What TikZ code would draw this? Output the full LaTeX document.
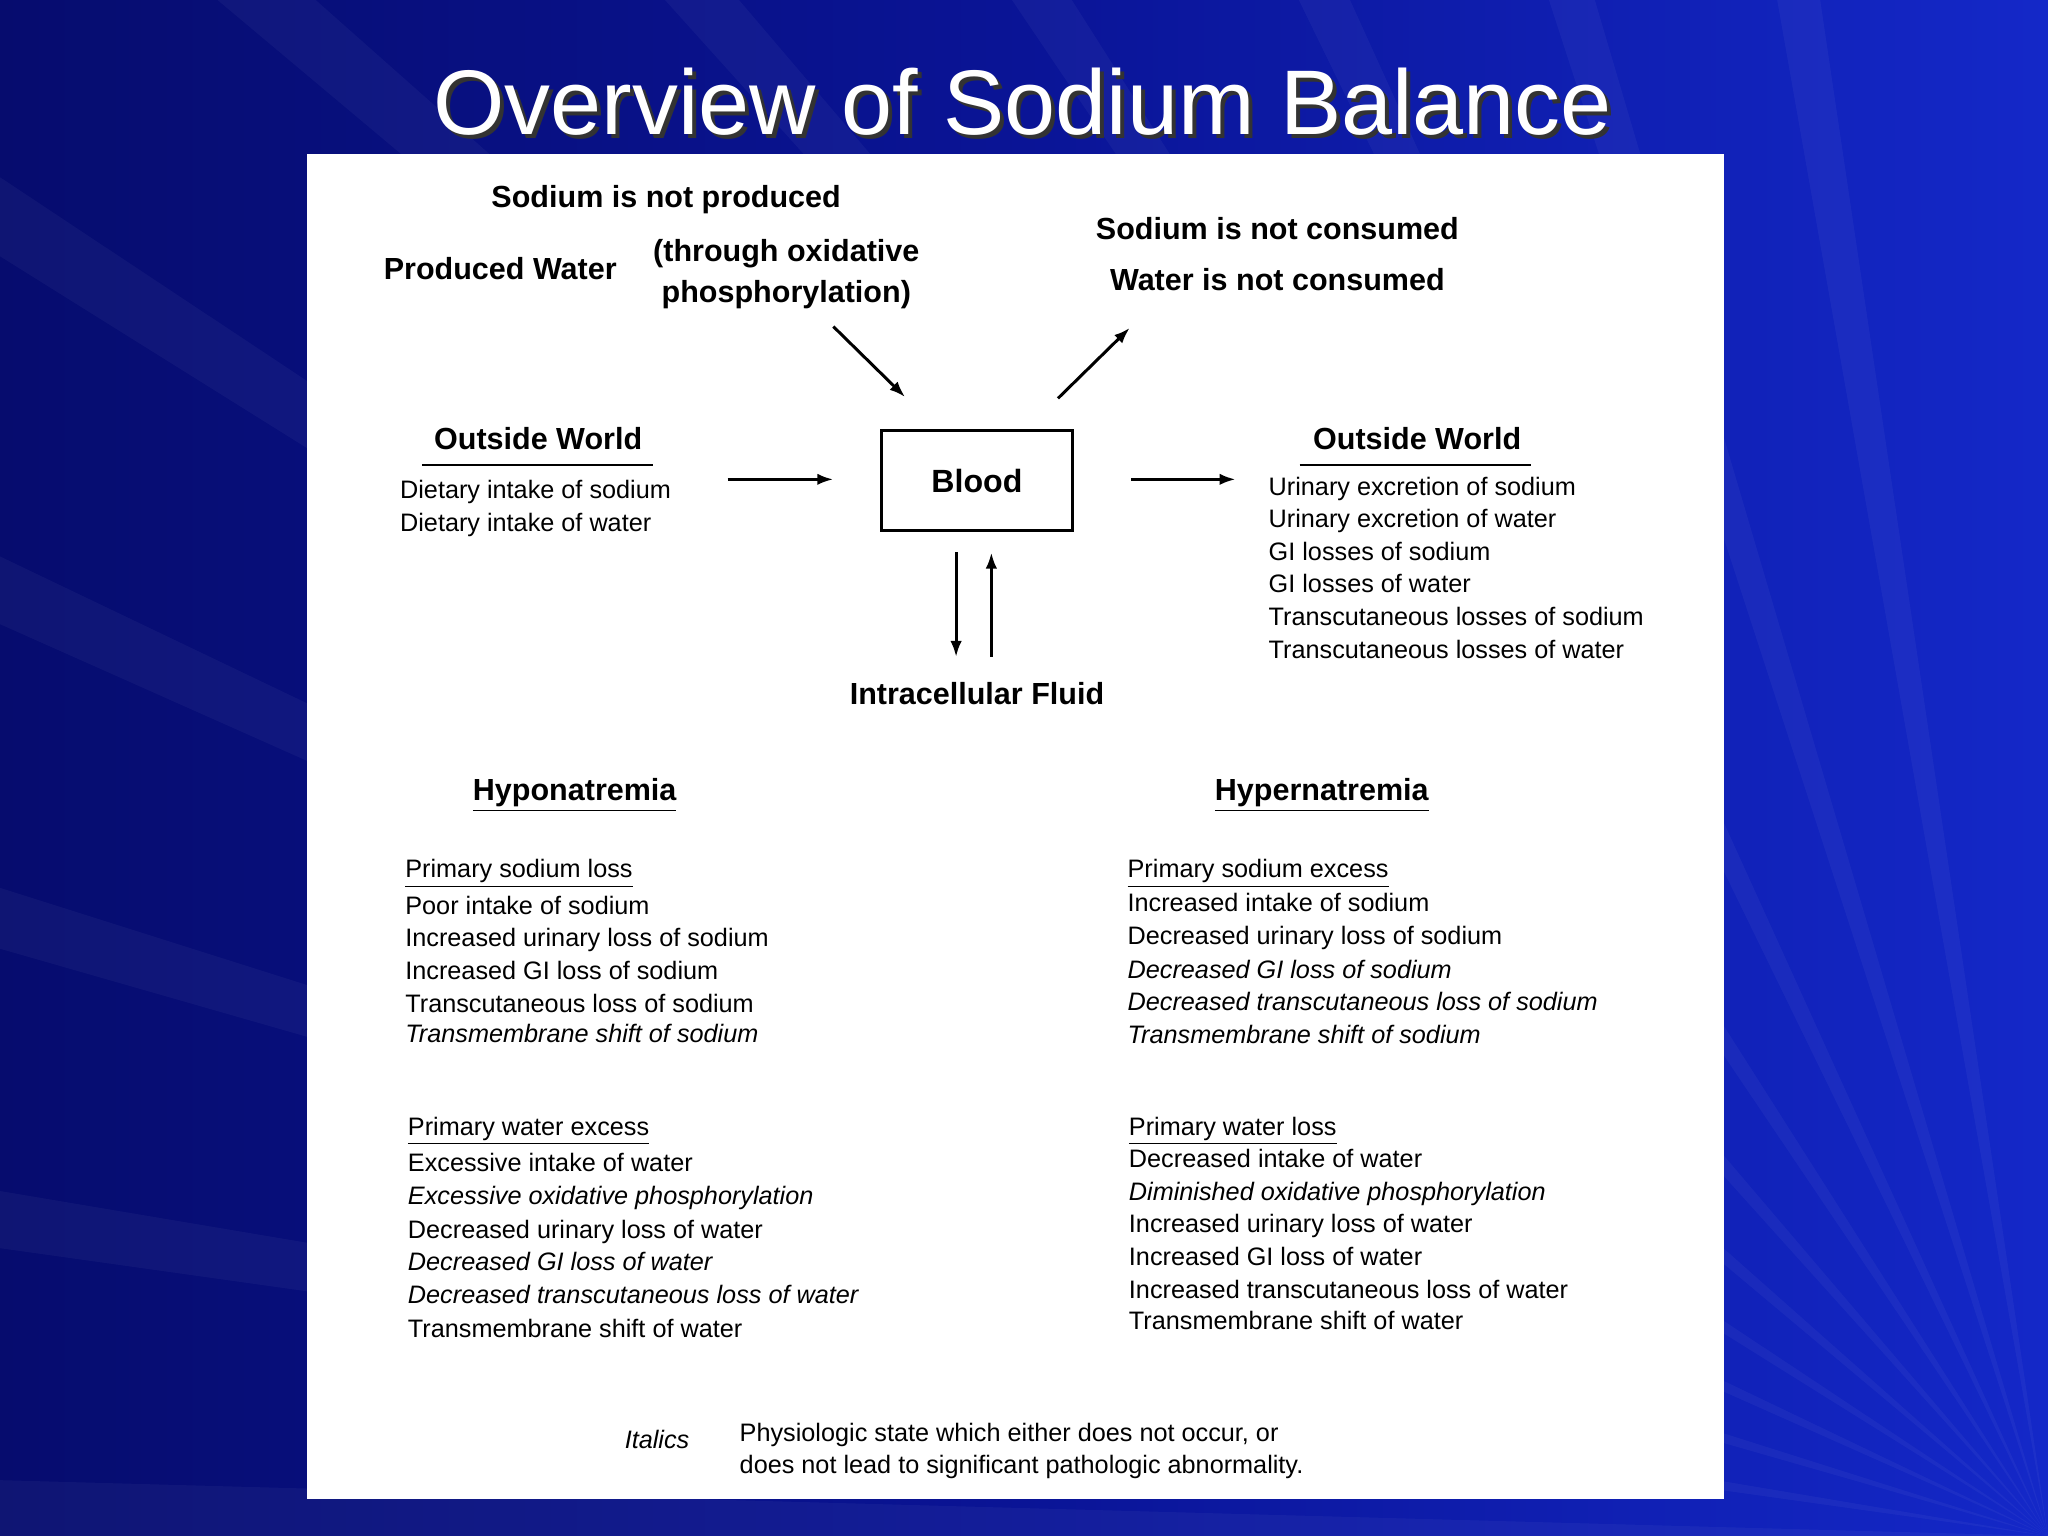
\documentclass[tikz,border=0pt]{standalone}
\usepackage{fontspec}
\setmainfont{Liberation Sans}
\usetikzlibrary{arrows.meta}
\definecolor{bgA}{RGB}{10,20,150}
\definecolor{bgB}{RGB}{20,40,200}
\definecolor{bgC}{RGB}{6,12,110}
\begin{document}
\begin{tikzpicture}[x=0.02cm,y=-0.02cm,
  lbl/.style={font=\fontsize{13.3}{16}\selectfont\bfseries,inner sep=0pt},
  itm/.style={font=\fontsize{11}{13}\selectfont,inner sep=0pt,anchor=base west},
  itl/.style={itm,font=\fontsize{11}{13}\selectfont\itshape},
  arr/.style={line width=1.3pt,-{Latex[length=7pt,width=5pt]}}]
\useasboundingbox (0,0) rectangle (1568,1176);
\shade[left color=bgC,right color=bgB,middle color=bgA] (0,0) rectangle (1568,1176);
\foreach \a in {0,8,...,80}{\fill[white,opacity=0.04] (1568,1176) -- ++(180+\a:2200) -- ++(180+\a+90:60) -- cycle;}
\fill[white] (235,118) rectangle (1320,1148);
\node[font=\fontsize{40}{46}\selectfont,text=black!80,inner sep=0pt] at (786,81) {Overview of Sodium Balance};
\node[font=\fontsize{40}{46}\selectfont,text=white,inner sep=0pt] (title) at (783,78) {Overview of Sodium Balance};
\node[lbl] (snp) at (510,153) {Sodium is not produced};
\node[lbl] (pw) at (383,206) {Produced Water};
\node[lbl,align=center] (ox) at (602,210) {(through oxidative\\[2pt]phosphorylation)};
\node[lbl] (snc) at (978,175) {Sodium is not consumed};
\node[lbl] (wnc) at (978,214) {Water is not consumed};
\node[draw,line width=1.3pt,minimum width=2.92cm,minimum height=1.54cm,inner sep=0pt,font=\fontsize{14}{16}\selectfont\bfseries] (blood) at (748,368) {Blood};
\coordinate (a1s) at (638,250); \coordinate (a1e) at (693,304);
\coordinate (a2s) at (810,305); \coordinate (a2e) at (865,251);
\draw[arr] (a1s) -- (a1e);
\draw[arr] (a2s) -- (a2e);
\node[lbl] (owl) at (412,336) {Outside World};
\draw[line width=1.2pt] (323,356) -- (500,356);
\node[itm] at (306,382) {Dietary intake of sodium};
\node[itm] at (306,407) {Dietary intake of water};
\coordinate (b1s) at (557,367); \coordinate (b1e) at (638,367);
\draw[arr] (b1s) -- (b1e);
\coordinate (b2s) at (866,367); \coordinate (b2e) at (946,367);
\draw[arr] (b2s) -- (b2e);
\node[lbl] (owr) at (1085,336) {Outside World};
\draw[line width=1.2pt] (995,356) -- (1172,356);
\foreach \t [count=\i from 0] in {Urinary excretion of sodium,Urinary excretion of water,GI losses of sodium,GI losses of water,Transcutaneous losses of sodium,Transcutaneous losses of water}
  \node[itm] at (971,379+25*\i) {\t};
\coordinate (c1s) at (732,423); \coordinate (c1e) at (732,503);
\coordinate (c2s) at (759,503); \coordinate (c2e) at (759,423);
\draw[arr] (c1s) -- (c1e);
\draw[arr] (c2s) -- (c2e);
\node[lbl] (icf) at (748,531) {Intracellular Fluid};
\node[lbl,anchor=base] (hypo) at (440,613) {\underline{Hyponatremia}};
\node[lbl,anchor=base] (hyper) at (1012,613) {\underline{Hypernatremia}};
\node[itm] at (310,672) {\underline{Primary sodium loss}};
\node[itm] at (310,700) {Poor intake of sodium};
\node[itm] at (310,725) {Increased urinary loss of sodium};
\node[itm] at (310,750) {Increased GI loss of sodium};
\node[itm] at (310,775) {Transcutaneous loss of sodium};
\node[itl] at (310,798) {Transmembrane shift of sodium};
\node[itm] at (863,672) {\underline{Primary sodium excess}};
\node[itm] at (863,698) {Increased intake of sodium};
\node[itm] at (863,723) {Decreased urinary loss of sodium};
\node[itl] at (863,749) {Decreased GI loss of sodium};
\node[itl] at (863,774) {Decreased transcutaneous loss of sodium};
\node[itl] at (863,799) {Transmembrane shift of sodium};
\node[itm] at (312,869) {\underline{Primary water excess}};
\node[itm] at (312,897) {Excessive intake of water};
\node[itl] at (312,922) {Excessive oxidative phosphorylation};
\node[itm] at (312,948) {Decreased urinary loss of water};
\node[itl] at (312,973) {Decreased GI loss of water};
\node[itl] at (312,998) {Decreased transcutaneous loss of water};
\node[itm] at (312,1024) {Transmembrane shift of water};
\node[itm] at (864,869) {\underline{Primary water loss}};
\node[itm] at (864,894) {Decreased intake of water};
\node[itl] at (864,919) {Diminished oxidative phosphorylation};
\node[itm] at (864,944) {Increased urinary loss of water};
\node[itm] at (864,969) {Increased GI loss of water};
\node[itm] at (864,994) {Increased transcutaneous loss of water};
\node[itm] at (864,1018) {Transmembrane shift of water};
\node[itl] at (478,1109) {Italics};
\node[itm] at (566,1104) {Physiologic state which either does not occur, or};
\node[itm] at (566,1128) {does not lead to significant pathologic abnormality.};
\end{tikzpicture}
\end{document}
